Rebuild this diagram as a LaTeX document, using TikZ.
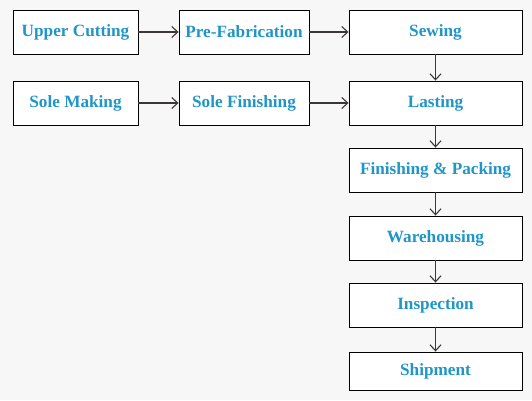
\documentclass[tikz,border=0pt]{standalone}
\usepackage{fontspec}
\setmainfont{Liberation Serif}
\usetikzlibrary{arrows.meta}
\definecolor{bgc}{RGB}{247,247,247}
\definecolor{txtc}{RGB}{32,150,200}
\definecolor{arrc}{RGB}{60,55,55}
\tikzset{
  stepbox/.style={draw=black, line width=0.9pt, fill=white, inner sep=0pt,
    font=\fontsize{17.2}{20}\selectfont\bfseries, text=txtc, minimum height=44pt},
  flow/.style={draw=arrc, line width=1.8pt, -{Straight Barb[length=6pt,width=11pt,line width=1.1pt]}}
}
\begin{document}
\begin{tikzpicture}[x=1pt,y=-1pt]
\fill[bgc] (0,0) rectangle (532,400);
\useasboundingbox (0,0) rectangle (532,400);
\node[stepbox, minimum width=125pt] (uc) at (75.5,32) {Upper Cutting};
\node[stepbox, minimum width=130pt] (pf) at (244,32) {Pre-Fabrication};
\node[stepbox, minimum width=173pt] (sw) at (435.5,32) {Sewing};
\node[stepbox, minimum width=125pt] (sm) at (75.5,103) {Sole Making};
\node[stepbox, minimum width=130pt] (sf) at (244,103) {Sole Finishing};
\node[stepbox, minimum width=173pt] (la) at (435.5,103) {Lasting};
\node[stepbox, minimum width=173pt] (fp) at (435.5,170) {Finishing \& Packing};
\node[stepbox, minimum width=173pt] (wh) at (435.5,238) {Warehousing};
\node[stepbox, minimum width=173pt] (in) at (435.5,305) {Inspection};
\node[stepbox, minimum width=173pt, minimum height=38pt] (sh) at (435.5,371) {Shipment};
\draw[flow] (uc) -- (pf);
\draw[flow] (pf) -- (sw);
\draw[flow] (sm) -- (sf);
\draw[flow] (sf) -- (la);
\draw[flow] (sw) -- (la);
\draw[flow] (la) -- (fp);
\draw[flow] (fp) -- (wh);
\draw[flow] (wh) -- (in);
\draw[flow] (in) -- (sh);
\end{tikzpicture}
\end{document}
